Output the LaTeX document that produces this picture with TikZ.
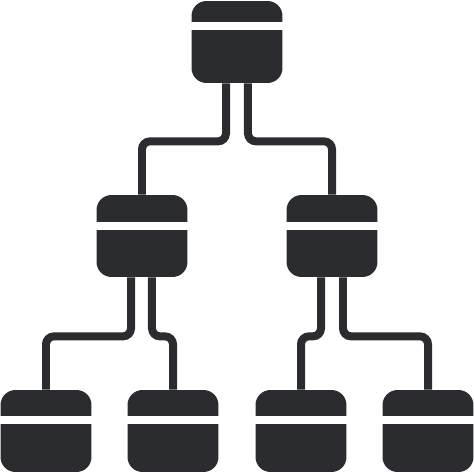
\documentclass[tikz,border=0pt]{standalone}
\usetikzlibrary{calc}
\definecolor{ink}{RGB}{43,44,48}
\tikzset{
  unit/.style={fill=ink, rounded corners=0.3cm, minimum width=1.82cm,
    minimum height=1.64cm, inner sep=0pt},
  wire/.style={draw=ink, line width=0.16cm, rounded corners=0.16cm},
}
\begin{document}
\begin{tikzpicture}[x=0.02cm, y=-0.02cm]
\useasboundingbox (0,0) rectangle (474,474);

% boxes
\node[unit] (root) at (237,42) {};
\node[unit] (left) at (142,236) {};
\node[unit] (right) at (332,236) {};
\node[unit] (leafA) at (46,431) {};
\node[unit] (leafB) at (173,431) {};
\node[unit] (leafC) at (301,431) {};
\node[unit] (leafD) at (428,431) {};

% white bands
\foreach \n/\d in {root/21, left/27, right/27, leafA/26, leafB/26, leafC/26, leafD/26}
  \fill[white] ([yshift={-\d*0.02cm}]\n.north west) rectangle ([yshift={-(\d+8)*0.02cm}]\n.north east);

% wires
\draw[wire] ([xshift=-0.22cm]root.south) -- ++(0,58) -| (left.north);
\draw[wire] ([xshift=0.22cm]root.south) -- ++(0,58) -| (right.north);
\draw[wire] ([xshift=-0.22cm]left.south) -- ++(0,59) -| (leafA.north);
\draw[wire] ([xshift=0.2cm]left.south) -- ++(0,59) -| (leafB.north);
\draw[wire] ([xshift=-0.22cm]right.south) -- ++(0,59) -| (leafC.north);
\draw[wire] ([xshift=0.22cm]right.south) -- ++(0,59) -| (leafD.north);
\end{tikzpicture}
\end{document}
